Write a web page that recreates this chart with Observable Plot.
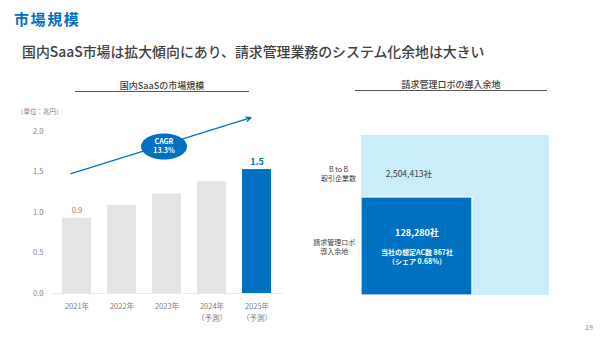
<!DOCTYPE html>
<html><head><meta charset="utf-8">
<script src="https://cdn.jsdelivr.net/npm/d3@7"></script>
<script src="https://cdn.jsdelivr.net/npm/@observablehq/plot@0.6"></script>
<style>
html,body{margin:0;padding:0;}
body{width:600px;height:338px;position:relative;background:#fff;overflow:hidden;font-family:"Noto Sans CJK JP","Noto Sans",sans-serif;}
.abs{position:absolute;white-space:nowrap;line-height:1;}
#leftPlot,#rightPlot{position:absolute;top:95px;width:300px;height:235px;}
#leftPlot{left:0;} #rightPlot{left:300px;}
svg{overflow:visible;}
</style></head><body>
<div class="abs" style="left:14px;top:11px;font-size:15px;font-weight:700;color:#0070C0;letter-spacing:1.6px;">市場規模</div>
<div class="abs" style="left:22px;top:45px;font-size:13.9px;font-weight:500;color:#404040;">国内SaaS市場は拡大傾向にあり、請求管理業務のシステム化余地は大きい</div>
<div class="abs" style="left:75px;top:81px;width:174px;text-align:center;font-size:9px;font-weight:500;color:#404040;">国内SaaSの市場規模</div>
<div class="abs" style="left:75px;top:91px;width:174px;height:1px;background:#595959;"></div>
<div class="abs" style="left:355px;top:80px;width:192px;text-align:center;font-size:9px;font-weight:500;color:#404040;">請求管理ロボの導入余地</div>
<div class="abs" style="left:355px;top:90px;width:192px;height:1px;background:#595959;"></div>
<div class="abs" style="left:17px;top:108px;font-size:6.5px;color:#808080;">（単位：兆円）</div>
<div class="abs" style="left:585px;top:324px;font-size:7px;color:#808080;">19</div>
<div id="leftPlot"></div>
<div id="rightPlot"></div>
<script>
// ---- data: left chart (国内SaaSの市場規模, 兆円)
const years = ["2021年", "2022年", "2023年", "2024年", "2025年"];
const yearNotes = ["", "", "", "（予測）", "（予測）"];
const marketSize = [0.93, 1.09, 1.23, 1.38, 1.53];
const valueLabels = ["0.9", "", "", "", "1.5"];
const yTicks = [0, 0.5, 1.0, 1.5, 2.0];
const cagrText = "CAGR\n13.3%";
const trendFrom = 1.48, trendTo = 2.17, cagrAt = 1.815;

// ---- data: right chart (請求管理ロボの導入余地)
const segmentLabels = ["B to B\n取引企業数", "請求管理ロボ\n導入余地"];
const companyCounts = ["2,504,413社", "128,280社"];
const acNote = "当社の想定AC数 867社\n（シェア 0.68%）";
const boxWidth = [100, 59];   // schematic relative box sizes (%)
const boxHeight = [100, 61.25];

const FONT = '"Noto Sans CJK JP","Noto Sans",sans-serif';
const BLUE = "#0070C0", GRAY = "#E4E4E4", LIGHT = "#C8EEFC";

const bars = years.map((y, i) => ({year: y, value: marketSize[i], label: valueLabels[i], note: yearNotes[i]}));
const last = years[years.length - 1];

const ellipse = {draw(ctx, size) {
  const ry = Math.sqrt(size / Math.PI), rx = ry * 1.77, k = 0.5523;
  ctx.moveTo(rx, 0);
  ctx.bezierCurveTo(rx, ry * k, rx * k, ry, 0, ry);
  ctx.bezierCurveTo(-rx * k, ry, -rx, ry * k, -rx, 0);
  ctx.bezierCurveTo(-rx, -ry * k, -rx * k, -ry, 0, -ry);
  ctx.bezierCurveTo(rx * k, -ry, rx, -ry * k, rx, 0);
  ctx.closePath();
}};

const left = Plot.plot({
  width: 300, height: 235,
  marginLeft: 44, marginRight: 10, marginTop: 36, marginBottom: 37,
  style: {fontFamily: FONT, fontSize: "7.5px", color: "#808080", background: "transparent"},
  x: {domain: years, padding: 0.348, axis: null},
  y: {domain: [0, 2], axis: null},
  marks: [
    Plot.barY(bars, {x: "year", y: "value", fill: d => d.year === last ? BLUE : GRAY}),
    Plot.ruleY([0], {stroke: "#E8E8E8", insetLeft: 8, insetRight: 8}),
    Plot.axisY(yTicks, {tickSize: 0, tickPadding: 1, tickFormat: d3.format(".1f"), fill: "#808080"}),
    Plot.axisX({tickSize: 0, tickPadding: 7, lineHeight: 1.6, fill: "#808080",
      tickFormat: d => { const i = years.indexOf(d); return yearNotes[i] ? d + "\n" + yearNotes[i] : d; }}),
    Plot.text(bars.filter(d => d.label && d.year !== last), {x: "year", y: "value", text: "label", lineAnchor: "bottom", dy: -5, fill: "#808080", fontSize: 7.5}),
    Plot.text(bars.filter(d => d.label && d.year === last), {x: "year", y: "value", text: "label", lineAnchor: "bottom", dy: -5, fill: BLUE, fontSize: 9, fontWeight: "bold"}),
    Plot.arrow([{a: years[0], b: last, y1: trendFrom, y2: trendTo}], {x1: "a", x2: "b", y1: "y1", y2: "y2", dx: -6, stroke: BLUE, strokeWidth: 1.3, headLength: 6, headAngle: 50}),
    Plot.dot([{x: years[2], y: cagrAt}], {x: "x", y: "y", r: 13, symbol: ellipse, fill: BLUE, stroke: "none", dx: -3}),
    Plot.text([{x: years[2], y: cagrAt, t: cagrText}], {x: "x", y: "y", text: "t", dx: -3, dy: -1, fill: "white", fontWeight: "bold", fontSize: 7, lineHeight: 1.3})
  ]
});
document.getElementById("leftPlot").append(left);

const boxes = companyCounts.map((c, i) => ({count: c, w: boxWidth[i], h: boxHeight[i]}));
const innerCx = boxWidth[1] / 2, innerCy = boxHeight[1] / 2, upperCy = (boxHeight[1] + boxHeight[0]) / 2;

const right = Plot.plot({
  width: 300, height: 235,
  marginLeft: 61, marginRight: 51, marginTop: 40, marginBottom: 35,
  style: {fontFamily: FONT, fontSize: "7px", color: "#404040", background: "transparent"},
  x: {domain: [0, 100], axis: null},
  y: {domain: [0, 100], axis: null},
  marks: [
    Plot.rect(boxes.slice(0, 1), {x1: 0, x2: "w", y1: 0, y2: "h", fill: LIGHT}),
    Plot.rect(boxes.slice(1), {x1: 0, x2: "w", y1: 0, y2: "h", fill: BLUE, stroke: "white", strokeWidth: 1.2}),
    Plot.text([segmentLabels[0]], {x: -12.2, y: upperCy, dy: 7.5, text: d => d, fill: "#404040", lineHeight: 1.3}),
    Plot.text([segmentLabels[1]], {x: -14.5, y: innerCy, text: d => d, fill: "#404040", lineHeight: 1.3}),
    Plot.text([companyCounts[0]], {x: innerCx, y: upperCy, dx: -8, dy: 7.5, text: d => d, fill: "#404040", fontSize: 8.5}),
    Plot.text([companyCounts[1]], {x: innerCx, y: innerCy, dy: -13, text: d => d, fill: "white", fontSize: 9, fontWeight: "bold"}),
    Plot.text([acNote], {x: innerCx, y: innerCy, dy: 10.5, text: d => d, fill: "white", fontSize: 7, fontWeight: "bold", lineHeight: 1.3})
  ]
});
document.getElementById("rightPlot").append(right);
</script>
</body></html>
